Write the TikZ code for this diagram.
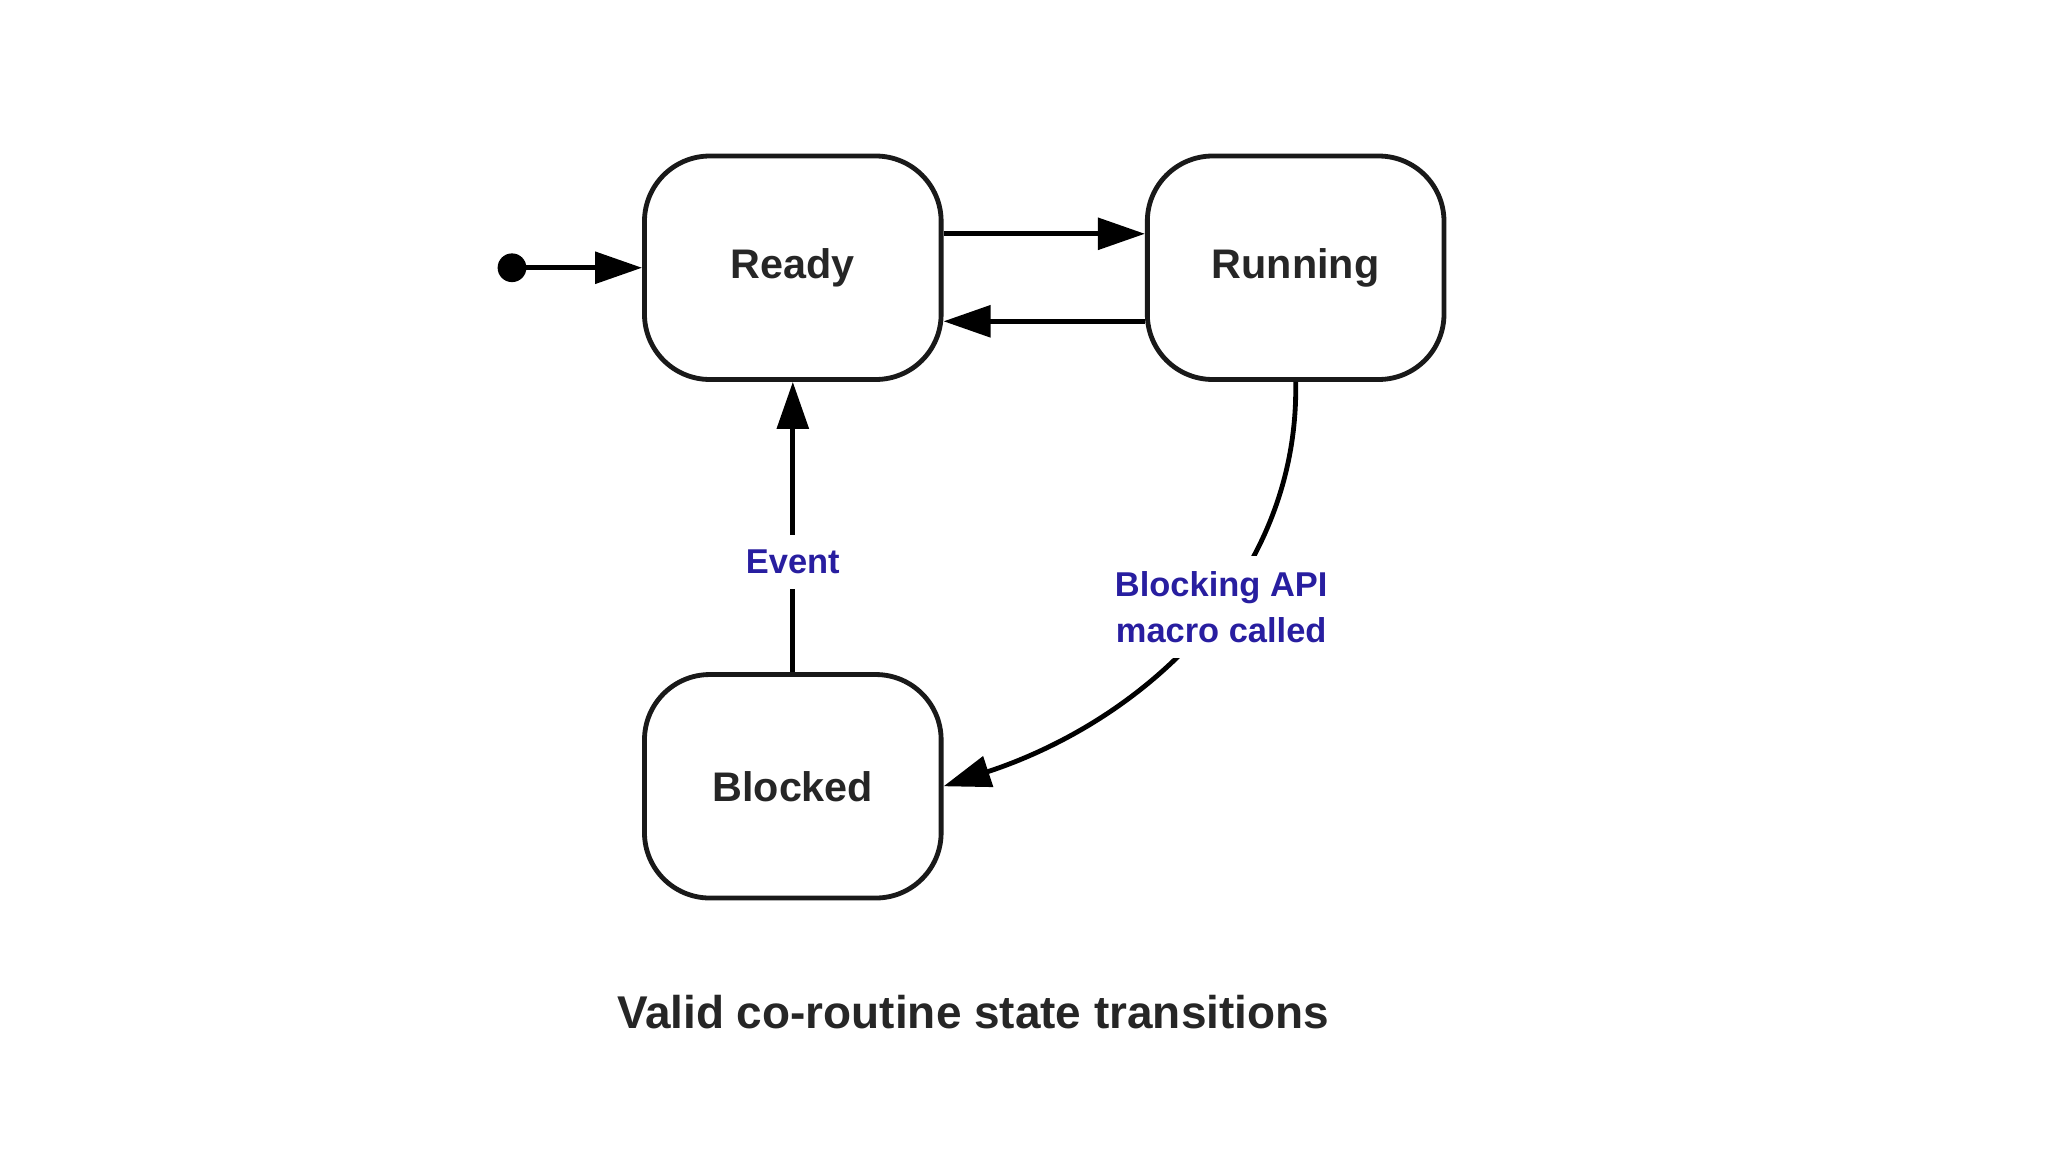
\documentclass[tikz,border=0pt]{standalone}
\usepackage{fontspec}
\setmainfont{Liberation Sans}
\usetikzlibrary{arrows.meta}
\definecolor{lbl}{RGB}{40,30,160}
\begin{document}
\begin{tikzpicture}[x=0.01cm,y=-0.01cm,
  st/.style={draw=black!90,line width=1.05pt,rounded corners=0.5cm,minimum width=2.27cm,minimum height=1.71cm,font=\fontsize{9}{11}\selectfont\bfseries,text=black!85},
  ar/.style={line width=1.05pt,-{Triangle[length=0.36cm,width=0.24cm]}},
  lb/.style={font=\fontsize{7.5}{10}\selectfont\bfseries,text=lbl,fill=white,align=center}]
\useasboundingbox (0,0) rectangle (1568,882);
\node[st] (ready) at (607,205) {Ready};
\node[st] (run) at (992,205) {Running};
\node[st] (blk) at (607,602) {Blocked};
\fill (392,205) circle (0.11cm);
\coordinate (init) at (392,205);
\draw[ar] (init) -- (ready.west);
\draw[ar] (ready.east |- 0,179) -- (run.west |- 0,179);
\draw[ar] (run.west |- 0,246) -- (ready.east |- 0,246);
\draw[ar] (blk.north) -- node[lb,pos=0.38] {Event} (ready.south);
\draw[ar] (run.south) .. controls (995,440) and (880,550) .. (blk.east);
\node[lb] (blab) at (935,465) {Blocking API\\macro called};
\node[font=\fontsize{10}{12}\selectfont\bfseries,text=black!85] (cap) at (745,775) {Valid co-routine state transitions};
\end{tikzpicture}
\end{document}
